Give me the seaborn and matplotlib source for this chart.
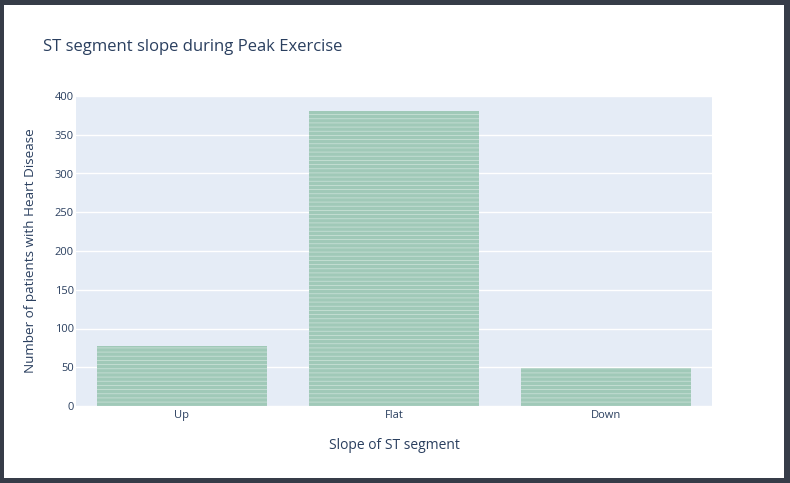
import matplotlib
matplotlib.use("Agg")
import matplotlib.pyplot as plt
import seaborn as sns
import pandas as pd
from matplotlib.patches import Rectangle

# Data
slopes = ["Up", "Flat", "Down"]
patients = [77, 380, 49]
y_ticks = [0, 50, 100, 150, 200, 250, 300, 350, 400]

df = pd.DataFrame({"Slope": slopes, "Patients": patients})

sns.set_theme(style="white")
plt.rcParams["font.family"] = ["Open Sans", "DejaVu Sans"]
plt.rcParams["hatch.linewidth"] = 0.6

text_col = "#2a3f5f"

fig = plt.figure(figsize=(7.9, 4.83), dpi=100)
fig.patch.set_facecolor("#363c48")
# white card inside the dark frame
fig.patches.append(Rectangle((4 / 790, 5 / 483), 780 / 790, 473 / 483,
                             transform=fig.transFigure, facecolor="white",
                             edgecolor="none", zorder=-10))

ax = fig.add_axes([76 / 790, (483 - 406) / 483, 636 / 790, 310 / 483])
ax.set_zorder(1)
ax.set_facecolor("#e5ecf6")

sns.barplot(data=df, x="Slope", y="Patients", order=slopes, color="#a0c9b8",
            saturation=1, width=0.8, edgecolor="#c8e0d6", linewidth=0,
            hatch="----", ax=ax, zorder=3)

ax.set_xlim(-0.5, 2.5)
ax.set_ylim(0, 400)
ax.set_yticks(y_ticks)
ax.grid(axis="y", color="white", linewidth=1.0, zorder=0)
ax.set_axisbelow(True)
for s in ax.spines.values():
    s.set_visible(False)

ax.tick_params(axis="both", length=0, labelsize=8, labelcolor=text_col)
ax.tick_params(axis="y", pad=1.5)
ax.tick_params(axis="x", pad=3)

ax.set_xlabel("Slope of ST segment", fontsize=10, color=text_col, labelpad=12)
ax.set_ylabel("Number of patients with Heart Disease", fontsize=9.7,
              color=text_col, labelpad=13)

fig.text(43 / 790, 1 - 47 / 483, "ST segment slope during Peak Exercise",
         fontsize=12, color=text_col, va="center", ha="left")

fig.savefig("out.png", dpi=100, facecolor=fig.get_facecolor())
